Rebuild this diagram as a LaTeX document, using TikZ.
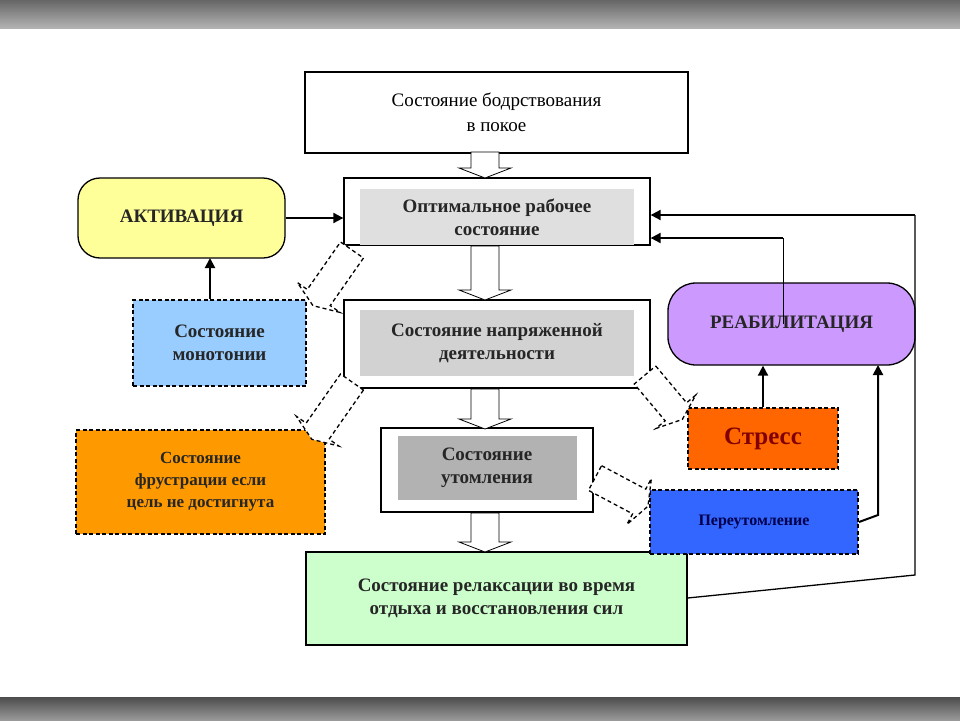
\documentclass[tikz,border=0pt]{standalone}
\usepackage{fontspec}
\setmainfont{Liberation Serif}
\usetikzlibrary{arrows.meta}
\definecolor{cmon}{HTML}{99CCFF}
\definecolor{creh}{HTML}{CC99FF}
\definecolor{cfru}{HTML}{FF9900}
\definecolor{cstr}{HTML}{FF6600}
\definecolor{covf}{HTML}{3366FF}
\definecolor{crel}{HTML}{CCFFCC}
\definecolor{cact}{HTML}{FFFF99}
\newcommand{\blockarr}[5]{% x,y,angle,length,style
 \begin{scope}[shift={(#1,#2)},rotate=#3]
 \draw[#5] (0,-14) -- (#4-10,-14) -- (#4-10,-26) -- (#4,0) -- (#4-10,26) -- (#4-10,14) -- (0,14) -- cycle;
 \end{scope}}
\begin{document}
\begin{tikzpicture}[x=1pt,y=-1pt,
 lbl/.style={font=\bfseries\fontsize{19}{23}\selectfont,align=center,text=black!85},
 dbox/.style={draw,line width=2pt,dash pattern=on 4pt off 2.5pt},
 harr/.style={fill=white,line width=0.8pt},
 darr/.style={fill=white,line width=1.3pt,dash pattern=on 4pt off 3pt},
 con/.style={line width=2pt,-{Triangle[length=10pt,width=10pt]}}]
\useasboundingbox (0,0) rectangle (960,720);
\shade[top color=gray!80!black,bottom color=gray!60] (0,0) rectangle (960,28);
\shade[top color=gray!60!black,bottom color=gray!80] (0,697) rectangle (960,720);
% boxes
\node[draw,line width=1.3pt,fill=white,minimum width=383pt,minimum height=81pt,font=\fontsize{19}{25}\selectfont,align=center] (top) at (496.5,112.5) {Состояние бодрствования\\в покое};
\node[draw,line width=1.3pt,fill=white,minimum width=306pt,minimum height=67pt] (opt) at (497,211.5) {};
\node[fill=gray!25,minimum width=274pt,minimum height=56pt,lbl] (opti) at (497,217) {Оптимальное рабочее\\состояние};
\node[draw,line width=1.3pt,fill=white,minimum width=306pt,minimum height=88pt] (ten) at (497,344) {};
\node[fill=gray!35,minimum width=274pt,minimum height=66pt,lbl] (teni) at (497,343) {Состояние напряженной\\деятельности};
\node[draw,line width=1.3pt,fill=white,minimum width=212pt,minimum height=84pt] (fat) at (487,470) {};
\node[fill=gray!60,minimum width=179pt,minimum height=64pt,lbl] (fati) at (487,468) {Состояние\\утомления};
\node[draw,line width=1.3pt,fill=crel,minimum width=381pt,minimum height=93pt,lbl] (rel) at (496.5,598.5) {Состояние релаксации во время\\отдыха и восстановления сил};
\node[draw,line width=1.3pt,rounded corners=22pt,fill=cact,minimum width=207pt,minimum height=80pt,lbl] (act) at (181.5,218) {АКТИВАЦИЯ};
\node[dbox,fill=cmon,minimum width=173pt,minimum height=86pt,lbl] (mon) at (219.5,343) {Состояние\\монотонии};
\node[dbox,fill=cfru,minimum width=249pt,minimum height=104pt,lbl,font=\bfseries\fontsize{17}{22}\selectfont] (fru) at (200.5,482) {Состояние\\фрустрации если\\цель не достигнута};
\node[draw,line width=1.3pt,rounded corners=28pt,fill=creh,minimum width=247pt,minimum height=82pt,lbl] (reh) at (791.5,324) {РЕАБИЛИТАЦИЯ};
\node[dbox,fill=cstr,minimum width=150pt,minimum height=61pt,lbl,font=\bfseries\fontsize{25}{27}\selectfont,text=red!50!black] (str) at (763,438.5) {Стресс};
\node[dbox,fill=covf,minimum width=208pt,minimum height=64pt,lbl,font=\bfseries\fontsize{16}{19}\selectfont,text=blue!30!black] (ovf) at (754,522) {Переутомление};
% hollow arrows
\blockarr{485}{152}{-90}{26}{harr}
\blockarr{485}{246}{-90}{54}{harr}
\blockarr{485}{389}{-90}{40}{harr}
\blockarr{485}{513}{-90}{39}{harr}
\blockarr{352}{250}{-125}{68}{darr}
\blockarr{352}{382}{-125}{70}{darr}
\blockarr{645}{375}{-50}{58}{darr}
\blockarr{595}{478}{-28}{60}{darr}
% connectors
\draw[con] (act.east) -- (opt.west |- act.east);
\draw[con] (mon.north -| 210,0) -- (210,258);
\draw[con] (str.north) -- (reh.south -| str.north);
\draw[con] (ovf.east) -- (878,515) -- (878,365);
\coordinate (rj) at (783,238);
\draw[line width=0.8pt] (783,324) -- (rj);
\draw[con] (rj) -- (opt.east |- rj);
\coordinate (c1) at (915,575);
\coordinate (c2) at (915,215);
\draw[line width=1.3pt] (rel.east |- 0,598) -- (c1) -- (c2);
\draw[con] (c2) -- (opt.east |- c2);
\end{tikzpicture}
\end{document}
